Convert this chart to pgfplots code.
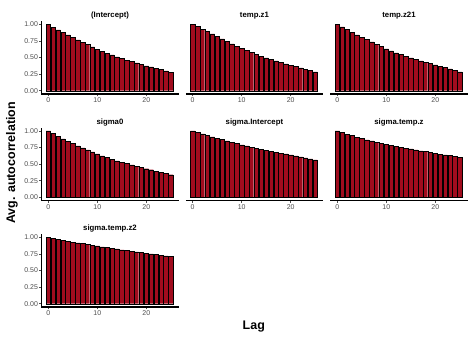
\documentclass[border=0pt]{standalone}
\usepackage{pgfplots}
\pgfplotsset{compat=1.18}
\usepackage{fontspec}
\setmainfont{Liberation Sans}
\definecolor{barred}{HTML}{A00C1E}
\definecolor{ticktxt}{HTML}{4D4D4D}
\pgfplotsset{
 acf/.style={
  scale only axis, width=137.2bp, height=73bp,
  xmin=-1.4, xmax=26.6, ymin=-0.05, ymax=1.05,
  axis x line=bottom, axis y line=left,
  x axis line style={-, line width=1.4bp},
  y axis line style={-, line width=0.7bp},
  xtick={0,10,20},
  ytick={0,0.25,0.5,0.75,1},
  yticklabels={0.00,0.25,0.50,0.75,1.00},
  tick align=outside, major tick length=2.3bp,
  tick style={line width=0.5bp, color=ticktxt},
  ticklabel style={font=\fontsize{7}{8}\selectfont, color=ticktxt},
  yticklabel style={inner sep=1bp},
  xticklabel style={inner sep=1.5bp},
  /pgf/number format/assume math mode=true,
  every axis title/.style={at={(0.5,1)}, anchor=base, yshift=3.6bp, inner sep=0pt, font=\bfseries\fontsize{7.8}{9}\selectfont},
  ybar, bar width=0.92, bar shift=0pt,
 },
 noy/.style={axis y line=none, ytick=\empty},
 acfbar/.style={fill=barred, draw=black, line width=0.35bp},
}
\begin{document}
\begin{tikzpicture}
\path[use as bounding box] (0,0) rectangle (474bp,-338bp);
% row 1
\begin{axis}[acf, at={(41.4bp,-94bp)}, anchor=south west, title={(Intercept)}]
\addplot[acfbar] coordinates {(0,1.00)(1,0.955)(2,0.915)(3,0.875)(4,0.84)(5,0.80)(6,0.765)(7,0.73)(8,0.695)(9,0.66)(10,0.625)(11,0.595)(12,0.565)(13,0.54)(14,0.51)(15,0.485)(16,0.46)(17,0.44)(18,0.42)(19,0.40)(20,0.375)(21,0.36)(22,0.34)(23,0.32)(24,0.30)(25,0.28)};
\end{axis}
\begin{axis}[acf, noy, at={(185.8bp,-94bp)}, anchor=south west, title={temp.z1}]
\addplot[acfbar] coordinates {(0,1.00)(1,0.965)(2,0.925)(3,0.89)(4,0.855)(5,0.815)(6,0.78)(7,0.74)(8,0.705)(9,0.67)(10,0.635)(11,0.605)(12,0.575)(13,0.545)(14,0.52)(15,0.495)(16,0.47)(17,0.45)(18,0.425)(19,0.405)(20,0.385)(21,0.365)(22,0.345)(23,0.325)(24,0.305)(25,0.285)};
\end{axis}
\begin{axis}[acf, noy, at={(330.4bp,-94bp)}, anchor=south west, title={temp.z21}]
\addplot[acfbar] coordinates {(0,1.00)(1,0.96)(2,0.92)(3,0.88)(4,0.84)(5,0.805)(6,0.77)(7,0.735)(8,0.70)(9,0.665)(10,0.63)(11,0.60)(12,0.57)(13,0.545)(14,0.52)(15,0.495)(16,0.47)(17,0.45)(18,0.43)(19,0.41)(20,0.39)(21,0.37)(22,0.35)(23,0.33)(24,0.31)(25,0.285)};
\end{axis}
% row 2
\begin{axis}[acf, at={(41.4bp,-200.6bp)}, anchor=south west, title={sigma0}]
\addplot[acfbar] coordinates {(0,1.00)(1,0.96)(2,0.92)(3,0.88)(4,0.845)(5,0.81)(6,0.775)(7,0.745)(8,0.715)(9,0.685)(10,0.655)(11,0.625)(12,0.60)(13,0.575)(14,0.55)(15,0.53)(16,0.51)(17,0.49)(18,0.47)(19,0.45)(20,0.43)(21,0.415)(22,0.395)(23,0.38)(24,0.36)(25,0.34)};
\end{axis}
\begin{axis}[acf, noy, at={(185.8bp,-200.6bp)}, anchor=south west, title={sigma.Intercept}]
\addplot[acfbar] coordinates {(0,1.00)(1,0.975)(2,0.955)(3,0.935)(4,0.91)(5,0.89)(6,0.87)(7,0.85)(8,0.83)(9,0.81)(10,0.79)(11,0.775)(12,0.755)(13,0.74)(14,0.725)(15,0.71)(16,0.695)(17,0.68)(18,0.665)(19,0.655)(20,0.64)(21,0.625)(22,0.61)(23,0.595)(24,0.58)(25,0.565)};
\end{axis}
\begin{axis}[acf, noy, at={(330.4bp,-200.6bp)}, anchor=south west, title={sigma.temp.z}]
\addplot[acfbar] coordinates {(0,1.00)(1,0.975)(2,0.95)(3,0.93)(4,0.905)(5,0.885)(6,0.865)(7,0.85)(8,0.83)(9,0.815)(10,0.80)(11,0.785)(12,0.77)(13,0.755)(14,0.74)(15,0.73)(16,0.715)(17,0.70)(18,0.69)(19,0.675)(20,0.665)(21,0.65)(22,0.64)(23,0.63)(24,0.615)(25,0.60)};
\end{axis}
% row 3
\begin{axis}[acf, at={(41.4bp,-307bp)}, anchor=south west, title={sigma.temp.z2}]
\addplot[acfbar] coordinates {(0,1.00)(1,0.985)(2,0.97)(3,0.955)(4,0.94)(5,0.925)(6,0.915)(7,0.905)(8,0.89)(9,0.88)(10,0.87)(11,0.855)(12,0.845)(13,0.835)(14,0.825)(15,0.81)(16,0.80)(17,0.79)(18,0.78)(19,0.77)(20,0.76)(21,0.75)(22,0.74)(23,0.73)(24,0.72)(25,0.71)};
\end{axis}
\node[font=\bfseries\fontsize{12.5}{14}\selectfont] at (253.8bp,-326.7bp) {Lag};
\node[rotate=90, font=\bfseries\fontsize{12.5}{14}\selectfont] at (12bp,-163bp) {Avg. autocorrelation};
\end{tikzpicture}
\end{document}
